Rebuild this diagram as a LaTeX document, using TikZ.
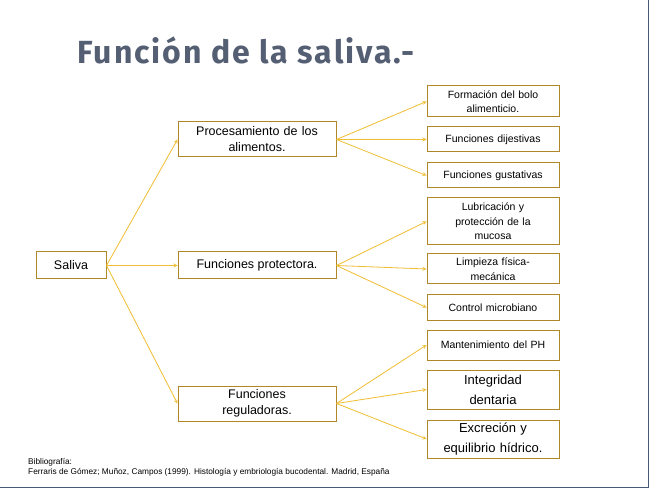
\documentclass[tikz,border=0pt]{standalone}
\usepackage{fontspec}
\setmainfont{Liberation Sans}
\newfontfamily\titlefont[LetterSpace=6]{Fira Sans}
\begin{document}
\begin{tikzpicture}[x=1pt,y=-1pt,
  bx/.style={draw=boxc,line width=1pt,fill=white,inner sep=1pt,align=center,font=\fontsize{12.5}{16}\selectfont},
  rb/.style={bx,minimum width=132pt,text width=130pt,font=\fontsize{10.5}{14.5}\selectfont},
  ar/.style={draw=arc,line width=0.8pt,->,>=stealth}]
\definecolor{boxc}{RGB}{175,135,40}
\definecolor{arc}{RGB}{240,190,50}
\definecolor{titc}{RGB}{85,95,115}
\definecolor{framec}{RGB}{70,90,120}
\useasboundingbox (0,0) rectangle (651,489);
\fill[white] (0,0) rectangle (651,489);
\draw[framec,line width=1pt] (648,0) -- (648,487) -- (0,487);
\node[anchor=west,text=titc,font=\titlefont\bfseries\fontsize{32}{34}\selectfont] (title) at (74,50) {Función de la saliva.-};
\node[bx,minimum width=70pt,minimum height=27pt] (sal) at (71,265.5) {Saliva};
\node[bx,minimum width=158pt,minimum height=35pt,text width=154pt] (p1) at (257,139.5) {Procesamiento de los\\alimentos.};
\node[bx,minimum width=158pt,minimum height=27pt] (p2) at (257,265.5) {Funciones protectora.};
\node[bx,minimum width=158pt,minimum height=35pt,text width=154pt] (p3) at (257,403.5) {Funciones\\reguladoras.};
\node[rb,minimum height=31pt] (r1) at (493,101.5) {Formación del bolo\\alimenticio.};
\node[rb,minimum height=25pt] (r2) at (493,139.5) {Funciones dijestivas};
\node[rb,minimum height=25pt] (r3) at (493,175.5) {Funciones gustativas};
\node[rb,minimum height=47pt] (r4) at (493,221.5) {Lubricación y\\protección de la\\mucosa};
\node[rb,minimum height=30pt] (r5) at (493,269) {Limpieza física-\\mecánica};
\node[rb,minimum height=25pt] (r6) at (493,307.5) {Control microbiano};
\node[rb,minimum height=30pt] (r7) at (493,345) {Mantenimiento del PH};
\node[rb,minimum height=39pt,font=\fontsize{13}{20}\selectfont] (r8) at (493,389.5) {Integridad\\dentaria};
\node[rb,minimum height=38pt,font=\fontsize{13}{20}\selectfont] (r9) at (493,439) {Excreción y\\equilibrio hídrico.};
\foreach \t in {p1,p2,p3} \draw[ar] (sal.east) -- (\t.west);
\foreach \t in {r1,r2,r3} \draw[ar] (p1.east) -- (\t.west);
\foreach \t in {r4,r5,r6} \draw[ar] (p2.east) -- (\t.west);
\foreach \t in {r7,r8,r9} \draw[ar] (p3.east) -- (\t.west);
\node[anchor=north west,align=left,font=\fontsize{8.3}{10.5}\selectfont,inner sep=0pt] (bib) at (28,458) {Bibliografía:\\Ferraris de Gómez; Muñoz, Campos (1999). Histología y embriología bucodental. Madrid, España};
\end{tikzpicture}
\end{document}
